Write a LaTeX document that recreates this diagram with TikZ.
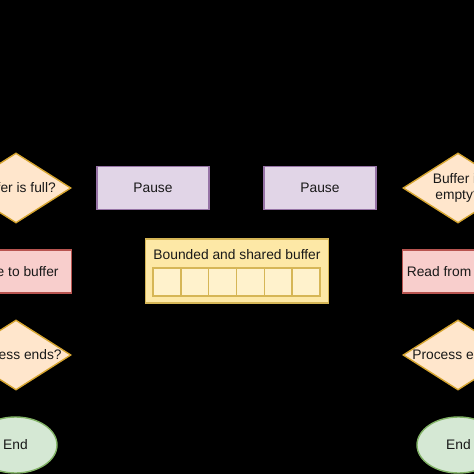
\documentclass[tikz,border=0pt]{standalone}
\usepackage{fontspec}
\setmainfont{Liberation Sans}
\usetikzlibrary{shapes.geometric,arrows.meta}
\definecolor{decfill}{HTML}{FFE6CC}
\definecolor{decdraw}{HTML}{D6A530}
\definecolor{pfill}{HTML}{E1D5E7}
\definecolor{pdraw}{HTML}{9673A6}
\definecolor{rfill}{HTML}{F8CECC}
\definecolor{rdraw}{HTML}{B85450}
\definecolor{efill}{HTML}{D5E8D4}
\definecolor{edraw}{HTML}{82B366}
\definecolor{bfill}{HTML}{FDE8A6}
\definecolor{bdraw}{HTML}{D6B656}
\definecolor{cfill}{HTML}{FFF2CC}
\tikzset{
  every node/.style={font=\fontsize{13.8}{15.5}\selectfont, text=black!90},
  decbox/.style={diamond, aspect=1.5714, inner sep=0pt, minimum width=110pt, minimum height=70pt, fill=decfill, draw=decdraw, line width=1.4pt, align=center},
  pausebox/.style={rectangle, minimum width=112pt, minimum height=43pt, inner sep=0pt, fill=pfill, draw=pdraw, line width=1.4pt},
  iobox/.style={rectangle, minimum width=112pt, minimum height=43pt, inner sep=0pt, fill=rfill, draw=rdraw, line width=1.4pt},
  endbox/.style={ellipse, minimum width=83pt, minimum height=56pt, inner sep=0pt, fill=efill, draw=edraw, line width=1.4pt},
  bufbox/.style={rectangle, minimum width=183pt, minimum height=64pt, inner sep=0pt, fill=bfill, draw=bdraw, line width=1.4pt},
  cellbox/.style={rectangle, minimum width=27.8pt, minimum height=28pt, inner sep=0pt, fill=cfill, draw=bdraw, line width=1.4pt},
  conn/.style={draw=black, line width=1pt, -{Stealth[length=6pt]}}
}
\begin{document}
\begin{tikzpicture}[x=1pt,y=-1pt]
\fill[black] (0,0) rectangle (474,474);
\useasboundingbox (0,0) rectangle (474,474);
\clip (0,0) rectangle (474,474);
% left column
\node[decbox] (full) at (16,188) {Buffer is full?};
\node[iobox] (write) at (15.5,271.5) {Write to buffer};
\node[decbox] (pends) at (16,355) {Process ends?};
\node[endbox] (endl) at (15.5,445) {End};
% pauses
\node[pausebox] (pausel) at (153,188) {Pause};
\node[pausebox] (pauser) at (320,188) {Pause};
% buffer
\node[bufbox] (buf) at (237,271) {};
\node (buflabel) at (237,255) {Bounded and shared buffer};
\foreach \i in {0,...,5}{
  \node[cellbox] (cell\i) at ({153+13.9+27.8*\i},282) {};
}
% right column
\node[decbox] (empty) at (458,188) {Buffer is\\empty?};
\node[iobox] (read) at (458.5,271.5) {Read from buffer};
\node[decbox] (pendr) at (458,355) {Process ends?};
\node[endbox] (endr) at (458.5,445) {End};
% connectors (black, as in the reference)
\draw[conn] (write.east) -- (buf.west);
\draw[conn] (buf.east) -- (read.west);
\end{tikzpicture}
\end{document}
